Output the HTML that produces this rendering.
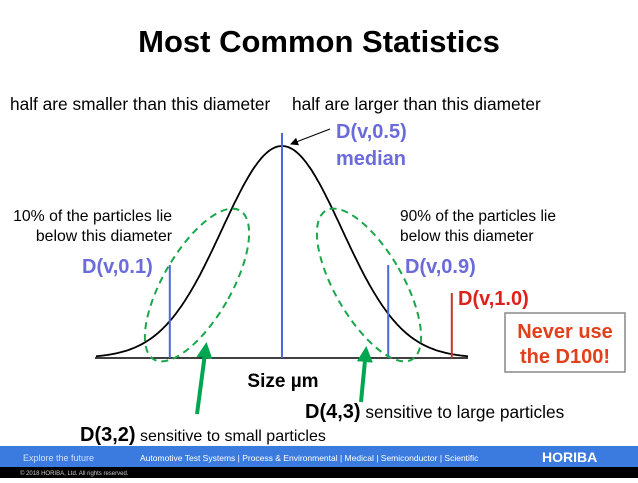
<!DOCTYPE html>
<html><head><meta charset="utf-8"><style>
body{margin:0;width:638px;height:478px;overflow:hidden;background:#fff;font-family:"Liberation Sans",Arial,sans-serif}
svg text{font-family:"Liberation Sans",Arial,sans-serif}
</style></head><body>
<svg width="638" height="478">
<defs><marker id="ah" markerWidth="8" markerHeight="8" refX="7" refY="4" orient="auto"><path d="M0,0 L8,4 L0,8 z" fill="#000"/></marker>
<marker id="gh" markerWidth="4" markerHeight="4" refX="3" refY="2" orient="auto"><path d="M0,0 L4,2 L0,4 z" fill="#00a650"/></marker></defs>
<text x="319" y="52" text-anchor="middle" font-size="31" font-weight="bold">Most Common Statistics</text>
<text x="10" y="110" font-size="17.3">half are smaller than this diameter</text>
<text x="292" y="110" font-size="17.3">half are larger than this diameter</text>
<text x="336" y="138" font-size="20" font-weight="bold" fill="#6b6bdc">D(v,0.5)</text>
<text x="336" y="165" font-size="20" font-weight="bold" fill="#6b6bdc">median</text>
<line x1="330" y1="129" x2="291" y2="144" stroke="#000" stroke-width="1" marker-end="url(#ah)"/>
<text x="172" y="221" font-size="15.8" text-anchor="end">10% of the particles lie</text>
<text x="172" y="241" font-size="15.8" text-anchor="end">below this diameter</text>
<text x="400" y="221" font-size="15.5">90% of the particles lie</text>
<text x="400" y="241" font-size="15.5">below this diameter</text>
<text x="82" y="273" font-size="20" font-weight="bold" fill="#6b6bdc">D(v,0.1)</text>
<text x="405" y="273" font-size="20" font-weight="bold" fill="#6b6bdc">D(v,0.9)</text>
<text x="458" y="305" font-size="20" font-weight="bold" fill="#e0201a">D(v,1.0)</text>
<g id="chart"></g>
<ellipse cx="197" cy="285" rx="34" ry="86" transform="rotate(30 197 285)" fill="none" stroke="#1aa64a" stroke-width="2" stroke-dasharray="7,5"/>
<ellipse cx="369" cy="285" rx="34" ry="86" transform="rotate(-30 369 285)" fill="none" stroke="#1aa64a" stroke-width="2" stroke-dasharray="7,5"/>
<line x1="197" y1="414" x2="206" y2="346" stroke="#00a650" stroke-width="4" marker-end="url(#gh)"/>
<line x1="361" y1="402" x2="366" y2="350" stroke="#00a650" stroke-width="4" marker-end="url(#gh)"/>
<text x="283" y="387" font-size="19" font-weight="bold" text-anchor="middle">Size µm</text>
<text x="305" y="418"><tspan font-size="20" font-weight="bold">D(4,3)</tspan><tspan font-size="17.3"> sensitive to large particles</tspan></text>
<text x="80" y="441"><tspan font-size="20" font-weight="bold">D(3,2)</tspan><tspan font-size="16"> sensitive to small particles</tspan></text>
<rect x="505" y="313" width="120" height="59" fill="#fff" stroke="#888" stroke-width="1.5"/>
<text x="565" y="338" font-size="20" font-weight="bold" fill="#e0401a" text-anchor="middle">Never use</text>
<text x="565" y="363" font-size="20" font-weight="bold" fill="#e0401a" text-anchor="middle">the D100!</text>
<rect x="0" y="446" width="638" height="21" fill="#3b7bdf"/>
<rect x="0" y="467" width="638" height="11" fill="#000"/>
<text x="23" y="461" font-size="9" fill="#cfe0ff">Explore the future</text>
<text x="140" y="461" font-size="8.5" fill="#fff">Automotive Test Systems | Process &amp; Environmental | Medical | Semiconductor | Scientific</text>
<text x="542" y="462" font-size="14" font-weight="bold" fill="#fff">HORIBA</text>
<text x="20" y="475" font-size="6" fill="#ccc">© 2018 HORIBA, Ltd. All rights reserved.</text>
</svg>
<script>
const percentileNames=["d10","d50","d90","d100"];
const percentileSizes=[-1.87,0,1.77,2.83];
const percentileTops=[265,133,265,293];
const percentileColors=["#4a6ad8","#4a6ad8","#4a6ad8","#c0392b"];
const curveMean=0, curveSigma=1, curvePeak=1;
const xs=v=>282+v*60, ys=v=>358-v*212;
const g=document.getElementById('chart');
const ns='http://www.w3.org/2000/svg';
let d='';
for(let i=0;i<=200;i++){const v=-3.1+i*6.2/200;const y=curvePeak*Math.exp(-((v-curveMean)**2)/(2*curveSigma**2));d+=(i?'L':'M')+xs(v).toFixed(1)+','+ys(y).toFixed(1);}
const p=document.createElementNS(ns,'path');


p.setAttribute('d',d);p.setAttribute('fill','none');p.setAttribute('stroke','#000');p.setAttribute('stroke-width','1.8');
g.appendChild(p);
const ax=document.createElementNS(ns,'line');


ax.setAttribute('x1',95);ax.setAttribute('x2',468);ax.setAttribute('y1',358);ax.setAttribute('y2',358);ax.setAttribute('stroke','#000');ax.setAttribute('stroke-width','1.5');
g.appendChild(ax);
percentileSizes.forEach((s,i)=>{const l=document.createElementNS(ns,'line');


l.setAttribute('x1',xs(s));l.setAttribute('x2',xs(s));l.setAttribute('y1',percentileTops[i]);l.setAttribute('y2',358);l.setAttribute('stroke',percentileColors[i]);l.setAttribute('stroke-width','2');g.appendChild(l);});
</script>
</body></html>
